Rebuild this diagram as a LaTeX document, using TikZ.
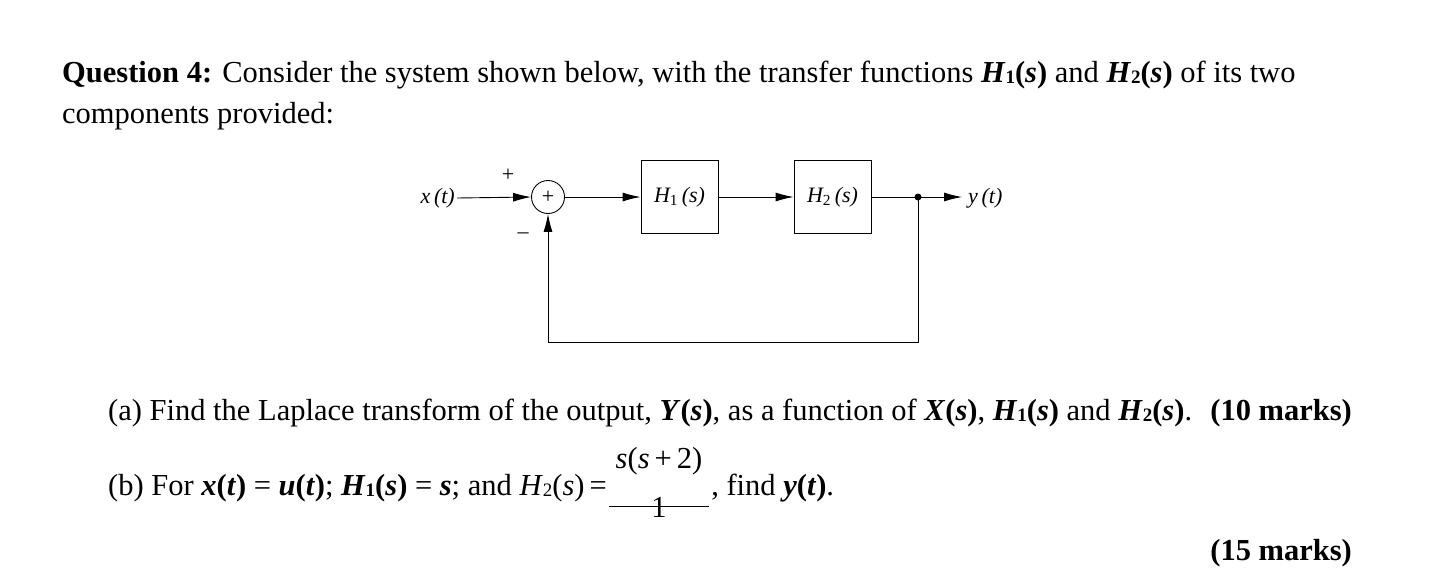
\documentclass[tikz,border=0pt]{standalone}
\usepackage{fontspec}
\setmainfont{Liberation Serif}
\usetikzlibrary{arrows.meta}
\newcommand{\sbt}[1]{\raisebox{-1pt}{\fontsize{19}{19}\selectfont #1}}
\begin{document}
\begin{tikzpicture}[x=1pt,y=-1pt,
  txt/.style={anchor=base west,inner sep=0,font=\fontsize{30.5}{32}\selectfont},
  dtxt/.style={inner sep=0,font=\fontsize{22}{24}\selectfont\itshape},
  utxt/.style={inner sep=0,font=\fontsize{22}{24}\selectfont},
  blk/.style={draw,line width=0.9pt,minimum width=77pt,minimum height=73pt,inner sep=0,font=\fontsize{22}{24}\selectfont\itshape},
  sig/.style={line width=0.9pt,-{Latex[length=18pt,width=9pt]}},
  ln/.style={line width=0.9pt}]
\useasboundingbox (0,0) rectangle (1446,582);
\node[txt] (q1) at (62,82) {\textbf{Question 4:} Consider the system shown below, with the transfer functions \textbf{\textit{H}\sbt{1}(\textit{s})} and \textbf{\textit{H}\sbt{2}(\textit{s})} of its two};
\node[txt] (q2) at (62,123) {components provided:};
% diagram
\node[dtxt,anchor=east] (x) at (455,198) {x\,(t)};
\node[draw,circle,line width=0.9pt,minimum size=33pt,inner sep=0,font=\fontsize{22}{24}\selectfont] (sum) at (548,197) {+};
\node[blk] (h1) at (679.5,197) {H\textsubscript{\upshape 1}\,(s)};
\node[blk] (h2) at (832.5,197) {H\textsubscript{\upshape 2}\,(s)};
\coordinate (j) at (918,197);
\coordinate (out) at (962,197);
\node[dtxt,anchor=west] (y) at (968,198) {y\,(t)};
\node[utxt] (plus) at (508,175) {+};
\node[utxt] (minus) at (523,236) {\textendash};
\coordinate (c1) at (918,342);
\coordinate (c2) at (548,342);
\draw[sig] ([xshift=2pt]x.east) -- (sum.west);
\draw[sig] (sum.east) -- (h1.west);
\draw[sig] (h1.east) -- (h2.west);
\draw[ln] (h2.east) -- (j);
\draw[sig] (j) -- (out);
\fill (j) circle (3.5pt);
\draw[ln] (j) -- (c1) -- (c2);
\draw[sig] (c2) -- (sum.south);
% questions
\node[txt] (a) at (108,420) {(a) Find the Laplace transform of the output, \textbf{\textit{Y}(\textit{s})}, as a function of \textbf{\textit{X}(\textit{s})}, \textbf{\textit{H}\sbt{1}(\textit{s})} and \textbf{\textit{H}\sbt{2}(\textit{s})}.};
\node[txt,anchor=base east] (am) at (1352,420) {\textbf{(10 marks)}};
\node[txt] (b) at (108,495) {(b) For \textbf{\textit{x}(\textit{t})} = \textbf{\textit{u}(\textit{t})}; \textbf{\textit{H}\sbt{1}(\textit{s})} = \textbf{\textit{s}}; and \textit{H}\sbt{2}(\textit{s})\,=};
\node[txt,anchor=base] (num) at ([xshift=52pt,yshift=-22pt]b.base east) {1};
\node[txt,anchor=base] (den) at ([xshift=52pt,yshift=27pt]b.base east) {\textit{s}(\textit{s}\,+\,2)};
\draw[line width=1pt] ([xshift=2pt,yshift=-11pt]b.base east) -- ([xshift=102pt,yshift=-11pt]b.base east);
\node[txt] (b2) at ([xshift=104pt]b.base east) {, find \textbf{\textit{y}(\textit{t})}.};
\node[txt,anchor=base east] (bm) at (1352,560) {\textbf{(15 marks)}};
\end{tikzpicture}
\end{document}
